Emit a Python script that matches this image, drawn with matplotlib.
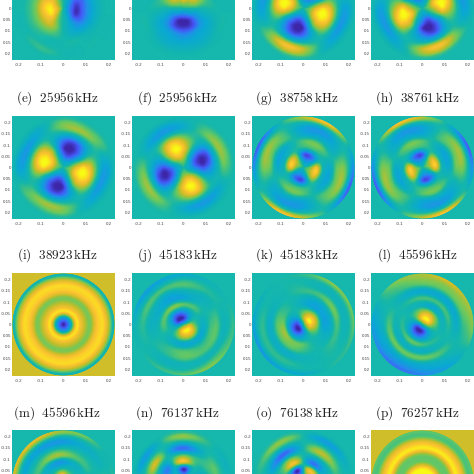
import numpy as np
import matplotlib
matplotlib.use("Agg")
from matplotlib import pyplot as plt
from matplotlib.colors import LinearSegmentedColormap

plt.rcParams['font.family'] = ['Liberation Sans', 'DejaVu Sans']
plt.rcParams['mathtext.fontset'] = 'cm'

# Polar sample positions of the field tables
radii = [0, .03, .06, .09, .12, .15, .18, .205, .224]
angles_deg = [0, 30, 60, 90, 120, 150, 180, 210, 240, 270, 300, 330]

# Field level, -9 (dark blue) .. 9 (yellow)
# one row per radius from .03 outwards, one column per angle
mode_a = [[-5,-4,-2,0,2,4,6,5,2,0,-2,-4],
          [-9,-7,-3,0,3,7,9,8,3,0,-3,-8],
          [-6,-6,-3,0,3,6,7,6,4,0,-3,-6],
          [-3,-3,-2,0,2,3,3,3,2,0,-2,-3],
          [-1,-1,0,0,0,1,1,1,0,0,0,-1],
          [0,0,0,0,0,0,0,0,0,0,0,0],
          [0,0,0,0,0,0,0,0,1,0,0,0],
          [0,0,0,0,0,0,0,0,0,0,0,0]]
mode_b = [[0,2,3,4,3,2,0,-2,-4,-5,-4,-2],
          [0,4,6,7,6,4,0,-4,-8,-10,-8,-4],
          [0,3,5,6,5,3,0,-3,-7,-8,-7,-3],
          [0,1,2,2,2,1,0,-2,-3,-4,-3,-2],
          [0,0,1,1,1,0,0,-1,-2,-2,-2,-1],
          [0,0,0,0,0,0,0,0,-1,-1,-1,0],
          [0,0,0,0,0,0,0,0,0,0,0,0],
          [0,0,0,0,0,0,0,0,0,0,0,0]]
mode_c = [[2,0,-2,-2,0,2,2,0,-2,-2,0,2],
          [6,-1,-7,-6,1,7,6,-1,-7,-6,1,7],
          [8,-2,-9,-8,2,9,8,-2,-9,-8,2,9],
          [6,-1,-7,-6,1,7,6,-1,-7,-6,1,7],
          [1,0,-1,-1,0,1,1,0,-1,-1,0,1],
          [-3,1,4,3,-1,-4,-3,1,7,5,-1,-4],
          [-2,1,2,2,-1,-2,-2,1,4,3,-1,-2],
          [0,0,0,0,0,0,0,0,0,0,0,0]]
mode_d = [[2,2,0,-2,-2,0,2,2,0,-2,-2,0],
          [5,7,1,-5,-7,-1,5,7,1,-5,-7,-1],
          [8,9,2,-8,-9,-2,8,9,2,-8,-9,-2],
          [5,7,1,-5,-7,-1,5,7,1,-5,-7,-1],
          [1,1,0,-1,-1,0,1,1,0,-1,-1,0],
          [-3,-4,-1,3,4,1,-3,-4,-1,5,7,1],
          [-2,-2,-1,2,2,1,-2,-2,-1,3,4,1],
          [0,0,0,0,0,0,0,0,0,0,0,0]]
mode_e = [[2,0,-2,-2,0,2,2,0,-2,-2,0,2],
          [6,-1,-7,-6,1,7,6,-1,-7,-6,1,7],
          [8,-2,-9,-8,2,9,8,-2,-9,-8,2,9],
          [6,-1,-7,-6,1,7,6,-1,-7,-6,1,7],
          [1,0,-1,-1,0,1,1,0,-1,-1,0,1],
          [-3,1,4,3,-1,-4,-3,1,4,3,-1,-4],
          [-2,1,2,2,-1,-2,-2,1,2,2,-1,-2],
          [0,0,0,0,0,0,0,0,0,0,0,0]]
mode_f = [[-2,-2,0,2,2,0,-2,-2,0,2,2,0],
          [-5,-7,-2,5,7,2,-5,-7,-2,5,7,2],
          [-7,-9,-2,7,9,2,-7,-9,-2,7,9,2],
          [-5,-7,-1,5,7,1,-5,-7,-1,5,7,1],
          [-1,-1,0,1,1,0,-1,-1,0,1,1,0],
          [2,4,2,-2,-4,-2,2,4,2,-2,-4,-2],
          [1,2,1,-1,-2,-1,1,2,1,-1,-2,-1],
          [0,0,0,0,0,0,0,0,0,0,0,0]]
mode_g = [[2,-1,-3,-2,1,3,2,-1,-3,-2,1,3],
          [7,-2,-8,-7,2,8,7,-2,-8,-7,2,8],
          [-1,0,1,1,0,-1,-1,0,1,1,0,-1],
          [-2,1,3,2,-1,-3,-2,1,3,2,-1,-3],
          [2,-1,-2,-2,1,2,2,-1,-2,-2,1,2],
          [3,-1,-4,-3,1,4,3,-1,-4,-3,1,4],
          [0,0,0,0,0,0,0,0,0,0,0,0],
          [-5,1,7,5,-1,-7,-5,1,7,5,-1,-7]]
mode_h = [[2,3,1,-2,-3,-1,2,3,1,-2,-3,-1],
          [7,8,2,-7,-8,-2,7,8,2,-7,-8,-2],
          [-1,-1,0,1,1,0,-1,-1,0,1,1,0],
          [-2,-3,-1,2,3,1,-2,-3,-1,2,3,1],
          [2,2,1,-2,-2,-1,2,2,1,-2,-2,-1],
          [3,4,1,-3,-4,-1,3,4,1,-3,-4,-1],
          [0,0,0,0,0,0,0,0,0,0,0,0],
          [-5,-7,-1,5,7,1,-5,-7,-1,5,7,1]]
mode_j = [[5,0,-5,-9,-10,-9,-5,0,5,9,10,9],
          [1,0,-2,-4,-5,-4,-1,0,2,4,5,4],
          [-2,0,2,3,4,3,2,0,-2,-3,-3,-3],
          [1,0,-1,-3,-3,-2,-1,0,1,2,1,1],
          [2,0,-1,-1,-2,-1,-1,0,1,2,2,2],
          [-1,0,1,2,2,2,1,0,-1,-1,-1,-1],
          [0,0,0,0,-1,-1,0,0,0,0,1,1],
          [1,0,-1,-2,-3,-3,-1,0,1,2,3,2]]
mode_k = [[8,10,9,5,0,-5,-8,-10,-9,-5,0,5],
          [4,5,4,2,0,-2,-4,-5,-4,-2,0,2],
          [-3,-3,-3,-2,0,1,3,4,3,2,0,-1],
          [-2,-2,-2,-1,0,1,2,2,2,1,0,-1],
          [2,3,2,1,0,-1,-2,-2,-2,-1,0,1],
          [-1,-1,-1,0,0,0,1,1,1,0,0,0],
          [0,0,0,0,0,0,0,0,0,0,0,0],
          [2,3,3,1,0,-1,-3,-4,-3,-2,0,1]]
mode_l = [[5,9,10,9,5,0,-5,-9,-10,-9,-5,0],
          [2,4,5,4,2,0,-2,-4,-5,-4,-2,0],
          [-1,-2,-3,-2,-1,0,1,2,3,2,1,0],
          [1,2,2,2,1,0,-1,-2,-2,-2,-1,0],
          [-2,-3,-3,-3,-2,0,2,3,3,3,2,0],
          [1,2,2,2,1,0,-1,-2,-2,-2,-1,0],
          [2,3,3,3,2,0,-2,-3,-4,-3,-2,0],
          [3,4,5,4,3,0,-3,-5,-6,-5,-3,0]]
mode_m = [[-1,2,4,7,7,4,1,-2,-4,-7,-7,-4],
          [0,0,0,0,0,0,0,0,0,0,0,0],
          [1,-1,-2,-4,-4,-2,-1,1,2,4,4,2],
          [-1,1,2,4,4,2,1,-1,-2,-4,-4,-2],
          [0,0,0,0,0,0,0,0,0,0,0,0],
          [1,-1,-2,-4,-4,-3,-2,1,2,4,4,2],
          [0,0,0,0,1,1,1,0,0,0,0,0],
          [0,0,2,4,6,6,5,2,-2,-4,-6,-5]]
mode_n = [[-1,-1,-2,-4,-2,-1,0,1,1,3,1,1],
          [0,-1,-3,-10,-3,-2,0,1,3,8,3,2],
          [0,-1,2,8,1,-6,0,1,-2,-5,-1,5],
          [0,1,1,2,0,-1,0,-1,-1,-2,0,1],
          [0,2,-2,-7,-1,6,0,-2,2,5,1,-5],
          [0,0,0,0,0,0,0,0,0,0,0,0],
          [0,-1,1,4,0,-4,0,1,-1,-3,0,3],
          [0,0,0,0,0,0,0,0,0,0,0,0]]
mode_o = [[0,3,3,0,-4,-3,0,3,3,0,-3,-3],
          [0,5,8,0,-10,-5,0,5,7,0,-7,-5],
          [0,-3,-7,0,8,3,0,-3,-6,0,5,3],
          [0,-1,-1,0,2,1,0,-1,-1,0,1,1],
          [0,3,5,0,-7,-5,0,3,4,0,-4,-3],
          [0,0,0,0,0,0,0,0,0,0,0,0],
          [0,-2,-4,0,4,2,0,-2,-3,0,3,2],
          [0,0,0,0,0,0,0,0,0,0,0,0]]

# Panels i and p are plain rings, one level per radius from the centre out
rings_i = [-10, -4, 9, 5, 2, 7, 8, 4, -1]
rings_p = [9, 9, 9, 2, 2, 9, 6, 1, 2]
disk_background = 4.6

mode_tables = [mode_a, mode_b, mode_c, mode_d, mode_e, mode_f, mode_g, mode_h,
               rings_i, mode_j, mode_k, mode_l, mode_m, mode_n, mode_o, rings_p]

panel_letters = ['e', 'f', 'g', 'h', 'i', 'j', 'k', 'l', 'm', 'n', 'o', 'p']
panel_freqs = [25956, 25956, 38758, 38761, 38923, 45183, 45183, 45596,
               45596, 76137, 76138, 76257]

y_ticks = [-0.2, -0.15, -0.1, -0.05, 0, 0.05, 0.1, 0.15, 0.2]
y_tick_labels = ['-0.2', '-0.15', '-0.1', '-0.05', '0', '0.05', '0.1', '0.15', '0.2']
x_ticks = [-0.2, -0.1, 0, 0.1, 0.2]
x_tick_labels = ['-0.2', '-0.1', '0', '0.1', '0.2']

parula = LinearSegmentedColormap.from_list('parula', [
    (0.0, (.242, .150, .660)), (.125, (.278, .356, .974)),
    (.25, (.153, .557, .930)), (.375, (.040, .665, .830)),
    (.5, (.080, .715, .680)), (.625, (.420, .790, .380)),
    (.75, (.800, .745, .160)), (.875, (.990, .760, .200)),
    (1.0, (.977, .984, .081))])

W = 474.0
col_left = [12, 132, 252, 371]
row_top = [-43, 116, 273, 430]
panel_size = 103
label_x = [57.5, 177.5, 297, 417]
label_y = [98, 255, 413]

# Fine mesh the tables get smoothed onto, stands in for imshow interpolation
n_theta = 180
fine_r = np.linspace(0, radii[-1], 90)
fine_theta = np.linspace(0, 2 * np.pi, n_theta + 1)
T, RR = np.meshgrid(fine_theta, fine_r)
X = RR * np.cos(T)
Y = -RR * np.sin(T)  # y axis runs downwards


def smooth_field(levels):
    # trig resample round each ring, then linear + short box along the radius
    spec = np.fft.rfft(levels, axis=1)
    rings = np.fft.irfft(spec, n=n_theta, axis=1) * n_theta / levels.shape[1]
    by_r = np.array([np.interp(fine_r, radii, rings[:, k]) for k in range(n_theta)]).T
    box = np.ones(7) / 7
    padded = np.pad(by_r, ((3, 3), (0, 0)), mode='edge')
    by_r = np.array([np.convolve(padded[:, k], box, mode='valid') for k in range(n_theta)]).T
    return np.hstack([by_r, by_r[:, :1]])


fig = plt.figure(figsize=(W / 100, W / 100), dpi=100)

for i, table in enumerate(mode_tables):
    table = np.array(table, dtype=float)
    if table.ndim == 1:
        levels = np.tile(table[:, None], (1, 12))
        back = disk_background
    else:
        # centre row is the node of the mode
        levels = np.vstack([np.zeros((1, 12)), table])
        back = 0
    row, col = i // 4, i % 4
    ax = fig.add_axes([col_left[col] / W, 1 - (row_top[row] + panel_size) / W,
                       panel_size / W, panel_size / W])
    ax.set_facecolor(parula((back + 9) / 18))
    ax.pcolormesh(X, Y, smooth_field(levels), shading='gouraud', cmap=parula, vmin=-9, vmax=9)
    ax.set_xlim(-0.229, 0.229)
    ax.set_ylim(0.229, -0.229)
    ax.set_aspect('equal')
    for s in ax.spines.values():
        s.set_visible(False)
    # top and bottom rows run off the page, only label what is on it
    if row == 0:
        ax.set_yticks(y_ticks[4:])
        ax.set_yticklabels(y_tick_labels[4:])
    elif row == 3:
        ax.set_yticks(y_ticks[:4])
        ax.set_yticklabels(y_tick_labels[:4])
    else:
        ax.set_yticks(y_ticks)
        ax.set_yticklabels(y_tick_labels)
    if row == 3:
        ax.set_xticks([])
    else:
        ax.set_xticks(x_ticks)
        ax.set_xticklabels(x_tick_labels)
    ax.tick_params(axis='x', length=0, labelsize=3.2, labelcolor='#444444', pad=2.2)
    ax.tick_params(axis='y', length=0, labelsize=3.2, labelcolor='#444444', pad=0.8)

for i, (letter, freq) in enumerate(zip(panel_letters, panel_freqs)):
    row, col = i // 4, i % 4
    fig.text(label_x[col] / W, 1 - label_y[row] / W,
             r'$\mathrm{(%s)}\ \ %d\,\mathrm{kHz}$' % (letter, freq),
             ha='center', va='center', fontsize=9.5, color='#222222')

fig.savefig('out.png', dpi=100)
